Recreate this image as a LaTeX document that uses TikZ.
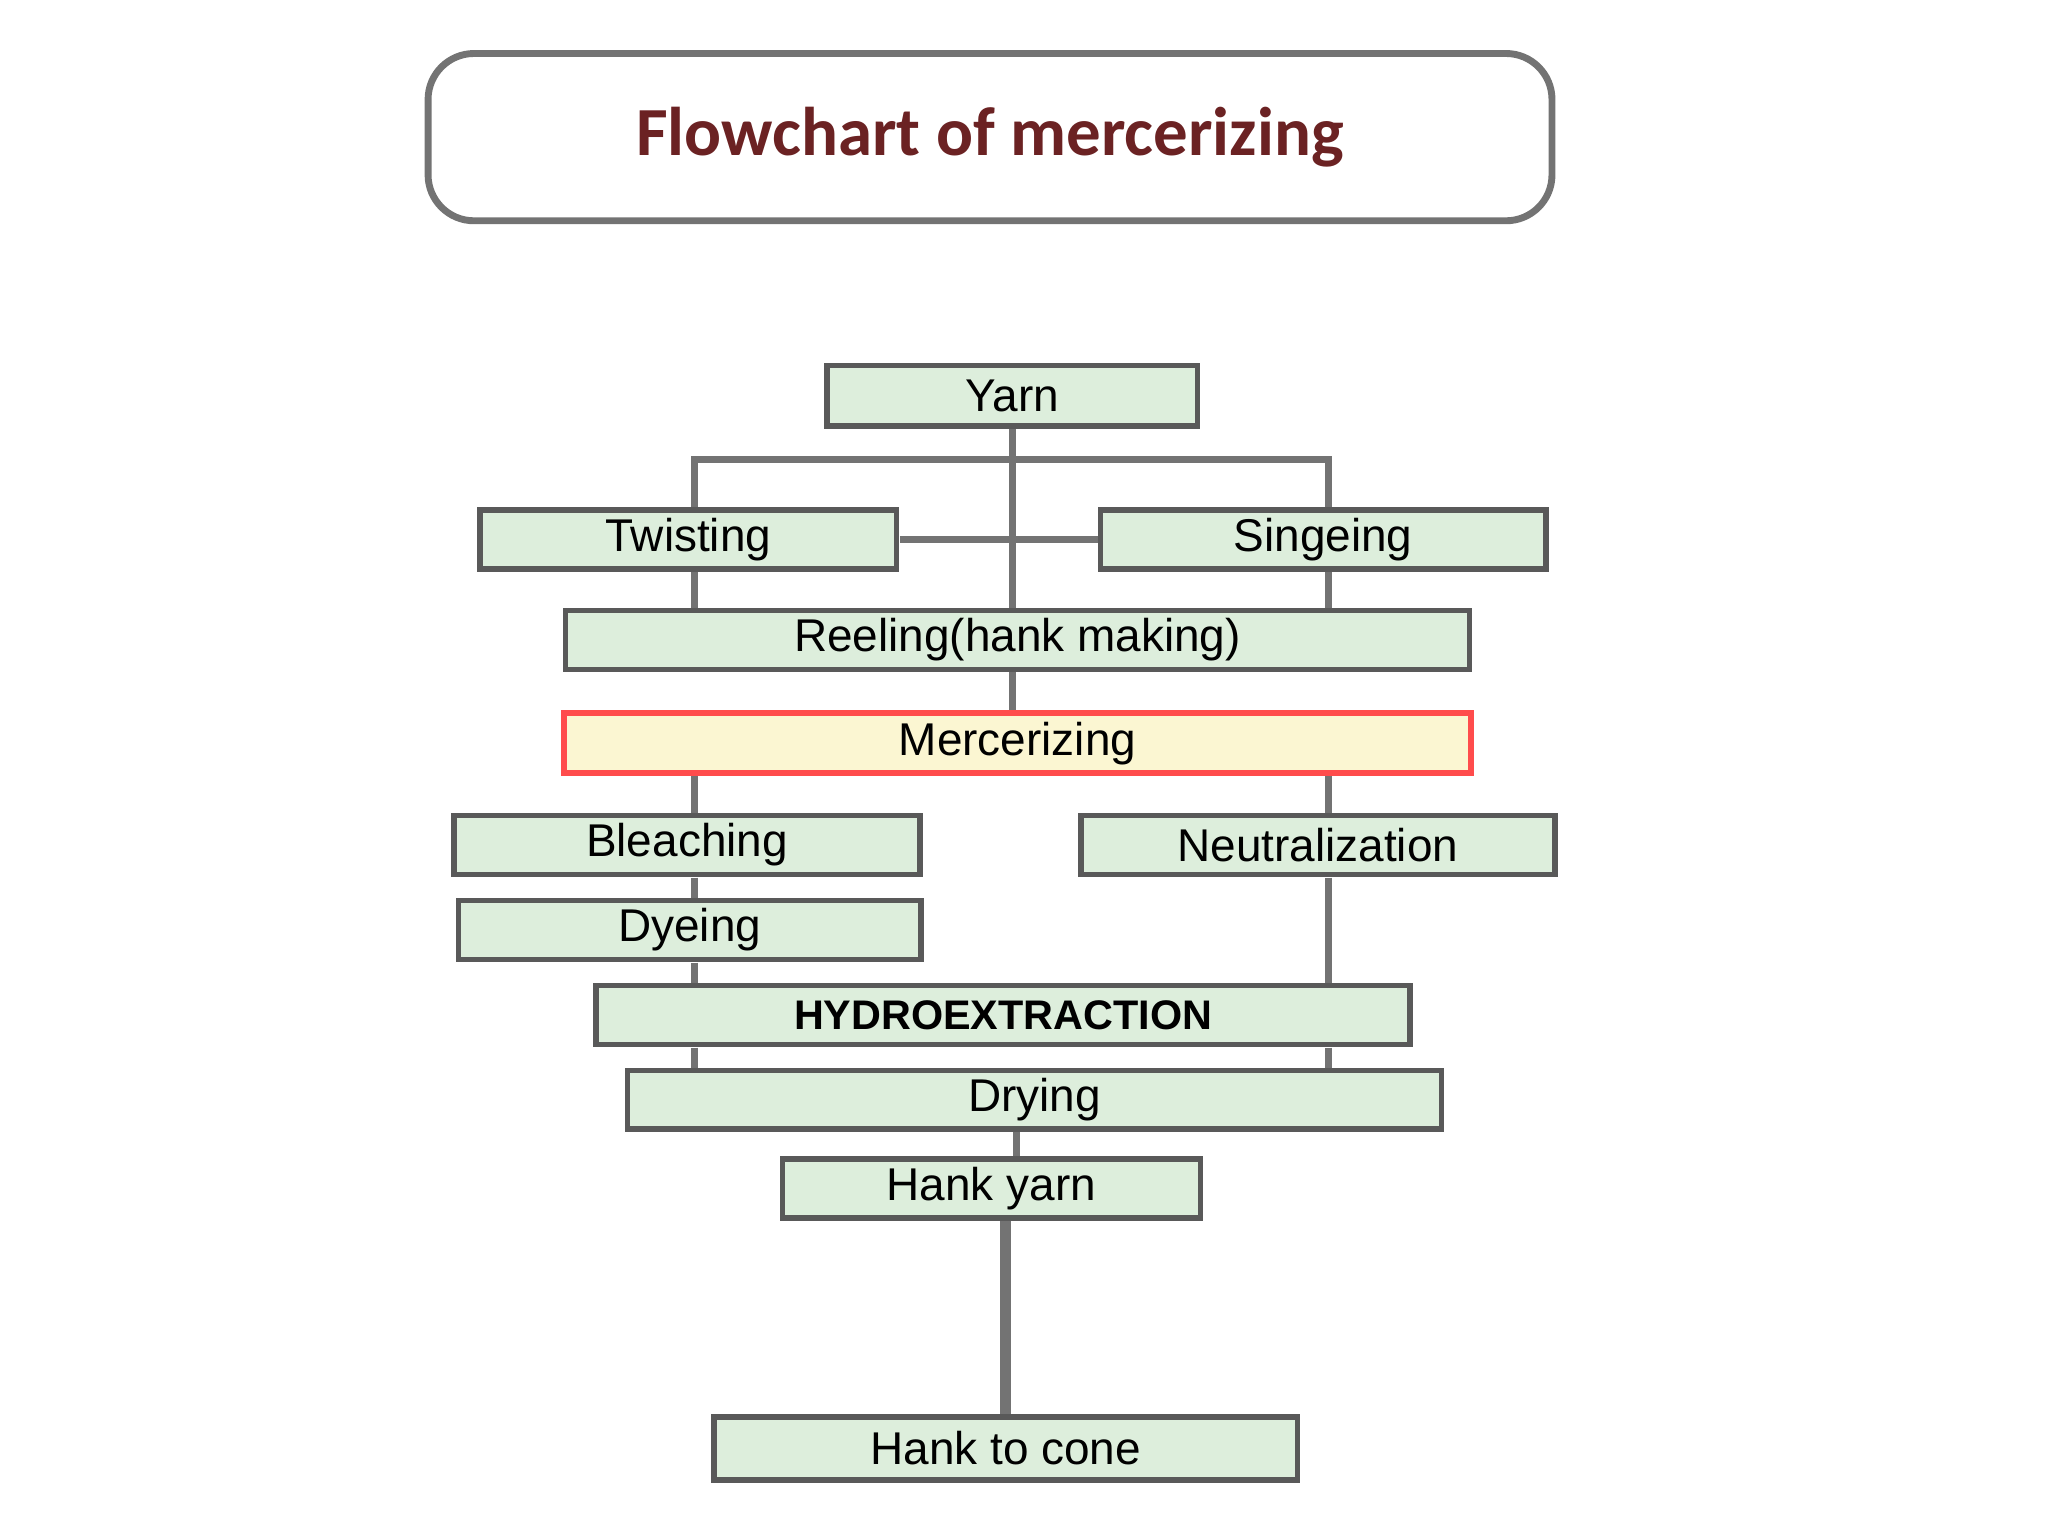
\documentclass[tikz,border=0pt]{standalone}
\usepackage{fontspec}
\setmainfont{Liberation Sans}
\newfontfamily\titlefont{Carlito}
\begin{document}
\begin{tikzpicture}[x=0.01cm,y=-0.01cm,
  box/.style={draw=black!65,line width=1.2pt,fill=boxg,inner sep=0pt,font=\fontsize{10}{10}\selectfont},
  ln/.style={draw=black!55,line width=1.5pt}]
\definecolor{boxg}{HTML}{DDEEDC}
\definecolor{merc}{HTML}{FBF6D2}
\definecolor{tred}{HTML}{6B2223}
\useasboundingbox (0,0) rectangle (1568,1176);
\node[draw=black!55,line width=1.5pt,rounded corners=10pt,minimum width=8.6cm,minimum height=1.28cm,font=\titlefont\bfseries\fontsize{15}{15}\selectfont,text=tred] (title) at (758,105) {Flowchart of mercerizing};
\def\bx#1#2#3#4#5#6{\node[box,minimum width=#4*0.01cm-0.04cm,minimum height=#5*0.01cm-0.04cm] (#1) at (#2,#3) {#6};}
\draw[ln] (775,328) -- (775,544);
\draw[ln] (532,389) |- (1017,352) -- (1017,389);
\draw[ln] (532,438) -- (532,466);
\draw[ln] (1017,438) -- (1017,466);
\draw[ln] (689,413) -- (841,413);
\draw[ln] (532,594) -- (532,623);
\draw[ln] (532,672) -- (532,688);
\draw[ln] (532,737) -- (532,753);
\draw[ln] (532,802) -- (532,818);
\draw[ln] (1017,594) -- (1017,623);
\draw[ln] (1017,672) -- (1017,753);
\draw[ln] (1017,802) -- (1017,818);
\draw[ln] (778,867) -- (778,886);
\draw[ln,line width=2.4pt] (770,935) -- (770,1083);
\bx{yarn}{775}{303}{288}{50}{Yarn}
\bx{twist}{527}{413}{323}{49}{Twisting}
\bx{sing}{1013}{413}{345}{49}{Singeing}
\bx{reel}{779}{490}{696}{49}{Reeling(hank making)}
\node[box,fill=merc,draw=red!70,minimum width=6.94cm,minimum height=0.46cm] (merc) at (779,569) {Mercerizing};
\bx{bleach}{526}{647}{361}{49}{Bleaching}
\bx{neut}{1009}{647}{367}{49}{Neutralization}
\bx{dye}{528}{712}{358}{49}{Dyeing}
\node[box,font=\bfseries\fontsize{9}{9}\selectfont,minimum width=6.23cm,minimum height=0.45cm] (hydro) at (768,777) {HYDROEXTRACTION};
\path (hydro.center) ++(24,0) coordinate (hc);
\bx{dry}{792}{842}{627}{49}{Drying}
\bx{hank}{759}{910}{324}{49}{Hank yarn}
\bx{cone}{770}{1109}{451}{52}{Hank to cone}
\end{tikzpicture}
\end{document}
